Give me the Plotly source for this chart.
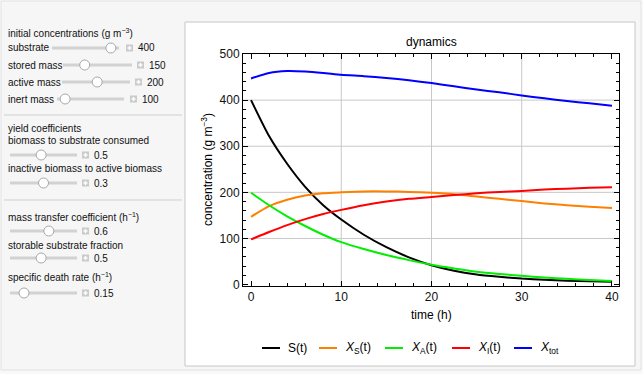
import plotly.graph_objects as go

# ---------------- data ----------------
time_h = [0, 2, 4, 6, 8, 10, 12.5, 15, 17.5, 20, 22.5, 25, 27.5, 30, 32.5, 35, 37.5, 40]
S_t    = [400, 322, 262, 212, 172, 141, 108, 81, 59, 42, 30, 22, 17, 13, 10.5, 8.5, 7, 6]
XS_t   = [147, 170, 184, 193, 198, 200, 202, 202, 201, 199, 196, 191, 186, 181, 176, 172, 169, 166]
XA_t   = [199, 172, 148, 127, 108, 92, 77, 64, 53, 43, 35, 28, 23, 19, 15.5, 12.5, 10, 8]
XI_t   = [98, 114, 129, 142, 153, 162, 172, 180, 186, 190, 194, 198, 201, 203, 206, 208, 210, 211]
Xtot_t = [447, 459, 463, 462, 459, 455, 452, 448, 443, 437, 430, 423, 417, 410, 404, 398, 393, 388]

series_names = ["S(t)", "<i>X</i><sub>S</sub>(t)", "<i>X</i><sub>A</sub>(t)",
                "<i>X</i><sub>I</sub>(t)", "<i>X</i><sub>tot</sub>"]
series_values = [S_t, XS_t, XA_t, XI_t, Xtot_t]
series_colors = ["#000000", "#ff8000", "#00ee00", "#ff0000", "#0000ff"]

x_ticks = [0, 10, 20, 30, 40]
y_ticks = [0, 100, 200, 300, 400, 500]
x_grid = [10, 20, 30]
y_grid = [100, 200, 300, 400]

# control panel content
section_labels = ["initial concentrations (g m<sup>\u22123</sup>)", "yield coefficients",
                  "biomass to substrate consumed", "inactive biomass to active biomass",
                  "mass transfer coefficient (h<sup>\u22121</sup>)", "storable substrate fraction",
                  "specific death rate (h<sup>\u22121</sup>)"]
slider_labels = ["substrate", "stored mass", "active mass", "inert mass"]
slider_values = ["400", "150", "200", "100", "0.5", "0.3", "0.6", "0.5", "0.15"]
slider_fracs = [0.93, 0.29, 0.52, 0.07, 0.46, 0.50, 0.59, 0.46, 0.17]

# ---------------- layout geometry ----------------
W, H = 643, 374
L, R, T, B = 243, 619, 54, 286
FONT = "Liberation Sans, Arial, sans-serif"


def PX(px):
    return (px - L) / (R - L)


def PY(py):
    return (B - py) / (B - T)


fig = go.Figure()
for name, vals, col in zip(series_names, series_values, series_colors):
    fig.add_trace(go.Scatter(x=time_h, y=vals, mode="lines", name=name,
                             line=dict(color=col, width=2, shape="spline", smoothing=0.6),
                             showlegend=False, hoverinfo="skip"))

shapes = []
annotations = []


def label(text, px, py, size=12, xanchor="center", angle=0, color="#000"):
    annotations.append(dict(text=text, x=PX(px), y=PY(py), xref="paper", yref="paper",
                            xanchor=xanchor, yanchor="middle", textangle=angle,
                            showarrow=False, font=dict(size=size, color=color, family=FONT)))


# outer panel & plot pane
shapes.append(dict(type="rect", xref="paper", yref="paper", x0=PX(1), x1=PX(641), y0=PY(1), y1=PY(370),
                   line=dict(color="#e2e2e2", width=1), fillcolor="#f6f6f6", layer="below"))
shapes.append(dict(type="rect", xref="paper", yref="paper", x0=PX(185), x1=PX(635), y0=PY(22), y1=PY(366),
                   line=dict(color="#c6c6c6", width=1), fillcolor="#ffffff", layer="below"))

# grid lines
for gx in x_grid:
    shapes.append(dict(type="line", xref="x", yref="paper", x0=gx, x1=gx, y0=0, y1=1,
                       line=dict(color="#c8c8c8", width=1), layer="below"))
for gy in y_grid:
    shapes.append(dict(type="line", xref="paper", yref="y", x0=0, x1=1, y0=gy, y1=gy,
                       line=dict(color="#c8c8c8", width=1), layer="below"))

# title and axis titles
label("dynamics", 431, 42)
label("time (h)", 431, 315)
label("concentration (g m<sup>\u22123</sup>)", 207, 170, angle=-90)

# custom legend
leg_line_x = [262, 319, 385, 452, 514]
for name, col, lx in zip(series_names, series_colors, leg_line_x):
    shapes.append(dict(type="line", xref="paper", yref="paper", x0=PX(lx), x1=PX(lx + 18),
                       y0=PY(348), y1=PY(348), line=dict(color=col, width=2)))
    label(name, lx + 24, 348, xanchor="left")

# control panel texts
section_y = [33, 128, 140, 168, 217, 245, 277]
for txt, yy in zip(section_labels, section_y):
    label(txt, 6, yy, size=10, xanchor="left", color="#111")
row_y = [48, 65, 82, 99]
for txt, yy in zip(slider_labels, row_y):
    label(txt, 6, yy, size=10, xanchor="left", color="#111")

# separators
for sy in [115, 200]:
    shapes.append(dict(type="line", xref="paper", yref="paper", x0=PX(4), x1=PX(182),
                       y0=PY(sy), y1=PY(sy), line=dict(color="#cfcfcf", width=1)))

# sliders: (y, track start, track end, box start)
slider_geom = [(48, 52, 119, 126), (65, 63, 132, 137), (82, 62, 130, 135), (99, 57, 124, 130),
               (155, 10, 77, 82), (183, 10, 77, 82), (231, 10, 77, 82), (258, 10, 77, 82),
               (293, 10, 77, 82)]
for (yy, t0, t1, bx), frac, val in zip(slider_geom, slider_fracs, slider_values):
    shapes.append(dict(type="line", xref="paper", yref="paper", x0=PX(t0), x1=PX(t1),
                       y0=PY(yy), y1=PY(yy), line=dict(color="#d2d2d2", width=3)))
    cx = t0 + 4 + frac * (t1 - t0 - 8)
    shapes.append(dict(type="circle", xref="paper", yref="paper", x0=PX(cx - 5), x1=PX(cx + 5),
                       y0=PY(yy - 5), y1=PY(yy + 5), line=dict(color="#a8a8a8", width=1),
                       fillcolor="#ffffff"))
    shapes.append(dict(type="rect", xref="paper", yref="paper", x0=PX(bx), x1=PX(bx + 7),
                       y0=PY(yy - 3.5), y1=PY(yy + 3.5), line=dict(width=0), fillcolor="#cbcbcb"))
    shapes.append(dict(type="line", xref="paper", yref="paper", x0=PX(bx + 1.5), x1=PX(bx + 5.5),
                       y0=PY(yy), y1=PY(yy), line=dict(color="#ffffff", width=1.5)))
    shapes.append(dict(type="line", xref="paper", yref="paper", x0=PX(bx + 3.5), x1=PX(bx + 3.5),
                       y0=PY(yy - 2), y1=PY(yy + 2), line=dict(color="#ffffff", width=1.5)))
    label(val, bx + 10, yy, size=10, xanchor="left", color="#111")

axis_common = dict(showline=True, linecolor="#000", linewidth=1, mirror="allticks",
                   ticks="inside", ticklen=5, tickcolor="#000", showgrid=False, zeroline=False,
                   tickfont=dict(size=12, color="#111", family=FONT))

fig.update_layout(
    width=W, height=H,
    margin=dict(l=L, r=W - R, t=T, b=H - B, pad=0),
    paper_bgcolor="#f9f9f9", plot_bgcolor="#ffffff",
    showlegend=False,
    xaxis=dict(range=[-0.89, 40.78], tickvals=x_ticks,
               minor=dict(dtick=2, tick0=0, ticks="inside", ticklen=3, tickcolor="#000"),
               **axis_common),
    yaxis=dict(range=[-3.1, 500], tickvals=y_ticks,
               minor=dict(dtick=20, tick0=0, ticks="inside", ticklen=3, tickcolor="#000"),
               **axis_common),
    shapes=shapes, annotations=annotations,
)

fig.write_html("out.html", config={"displayModeBar": False},
               post_script="document.body.style.margin='0px';")
